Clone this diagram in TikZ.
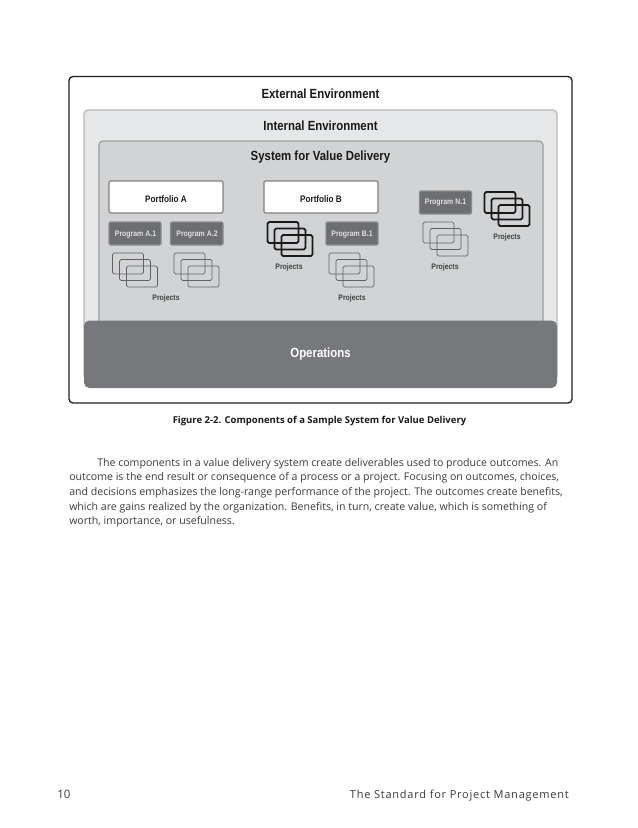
\documentclass[tikz,border=0pt]{standalone}
\usepackage{fontspec}
\setmainfont{Open Sans}
\newfontfamily\figfont[FakeStretch=0.86]{Liberation Sans}
\definecolor{internalgray}{HTML}{E6E7E8}
\definecolor{systemgray}{HTML}{D1D3D4}
\definecolor{opsgray}{HTML}{77787B}
\definecolor{programgray}{HTML}{6D6E71}
\definecolor{bodygray}{HTML}{3A3A3C}
\tikzset{
  envtitle/.style={font=\figfont\bfseries\fontsize{9.95}{11}\selectfont,text=black!90},
  smalllabel/.style={font=\figfont\bfseries\fontsize{6}{8}\selectfont,text=black!75},
  portfoliolabel/.style={font=\figfont\bfseries\fontsize{7.1}{8}\selectfont,text=black!90},
  programlabel/.style={font=\figfont\bfseries\fontsize{6.05}{8}\selectfont,text=black!12},
  portfoliobox/.style={draw=black!50,line width=0.9pt,fill=white,rounded corners=1pt},
  programbox/.style={draw=black!45,line width=0.9pt,fill=programgray,rounded corners=1pt},
  projthin/.style={draw=black!62,line width=0.6pt,rounded corners=1.2pt},
  projbold/.style={draw=black!90,line width=1.35pt,rounded corners=1.2pt},
  bodyline/.style={anchor=base west,inner sep=0pt,text=bodygray,font=\fontsize{7.93}{10}\selectfont},
}
% one stack of three overlapping project frames
\newcommand{\projstack}[3]{
  \foreach \k in {0,1,2} {
    \draw[#3] ({#1+7*\k},{#2+6.5*\k}) rectangle ++(31,21);
  }
}
\begin{document}
\begin{tikzpicture}[x=0.75pt,y=-0.75pt,line join=round]
  \useasboundingbox[fill=white] (0,0) rectangle (638,828);
  % the nested environments
  \draw[draw=black!88,line width=1pt,fill=white,rounded corners=3pt] (69,76.5) rectangle (572,403);
  \draw[draw=black!28,line width=0.9pt,fill=internalgray,rounded corners=3pt] (84,110) rectangle (557,380);
  \draw[draw=black!38,line width=0.9pt,fill=systemgray,rounded corners=3pt] (99,141) rectangle (543,340);
  \fill[opsgray,rounded corners=4pt] (84,320.5) rectangle (557,388);
  \node[envtitle] (external) at (320.5,93.5) {External Environment};
  \node[envtitle] (internal) at (320.5,125.5) {Internal Environment};
  \node[envtitle] (system) at (320.5,157.5) {System for Value Delivery};
  \node[envtitle,text=white] (operations) at (320.5,354.5) {Operations};
  % portfolios
  \draw[portfoliobox] (109,181) rectangle (223,213);
  \node[portfoliolabel] (portfolioA) at (166,199) {Portfolio A};
  \draw[portfoliobox] (264,181) rectangle (378,213);
  \node[portfoliolabel] (portfolioB) at (321,199) {Portfolio B};
  % programs
  \draw[programbox] (109,222) rectangle (161,245);
  \node[programlabel] (programA1) at (135.5,234.5) {Program A.1};
  \draw[programbox] (170.5,222) rectangle (223,245);
  \node[programlabel] (programA2) at (197,234.5) {Program A.2};
  \draw[programbox] (326,222) rectangle (378,245);
  \node[programlabel] (programB1) at (352,234.5) {Program B.1};
  \draw[programbox] (419.5,191) rectangle (471.5,214);
  \node[programlabel] (programN1) at (445.5,203) {Program N.1};
  % project stacks
  \projstack{112.5}{253}{projthin}
  \projstack{174}{253}{projthin}
  \projstack{329}{253}{projthin}
  \projstack{423}{222}{projthin}
  \projstack{267.5}{222}{projbold}
  \projstack{484.5}{192}{projbold}
  \node[smalllabel] (projectsA) at (166,298.5) {Projects};
  \node[smalllabel] (projectsB) at (289,267.5) {Projects};
  \node[smalllabel] (projectsC) at (352,298.5) {Projects};
  \node[smalllabel] (projectsN) at (445,267.5) {Projects};
  \node[smalllabel] (projectsM) at (507,237.5) {Projects};
  % caption and page text
  \node[font=\bfseries\fontsize{7.13}{10}\selectfont,text=black!90] (caption) at (319.5,420.5) {Figure 2-2. Components of a Sample System for Value Delivery};
  \node[bodyline] (line1) at (97,466) {The components in a value delivery system create deliverables used to produce outcomes. An};
  \node[bodyline] (line2) at (69,480.5) {outcome is the end result or consequence of a process or a project. Focusing on outcomes, choices,};
  \node[bodyline] (line3) at (69,495) {and decisions emphasizes the long-range performance of the project. The outcomes create benefits,};
  \node[bodyline] (line4) at (69,510) {which are gains realized by the organization. Benefits, in turn, create value, which is something of};
  \node[bodyline] (line5) at (69,524.5) {worth, importance, or usefulness.};
  \node[bodyline,font=\fontsize{8.6}{11}\selectfont] (pagenum) at (57,798) {10};
  \node[bodyline,anchor=base east,font=\fontsize{8.25}{11}\addfontfeature{LetterSpace=7}\selectfont] (footer) at (569,798) {The Standard for Project Management};
\end{tikzpicture}
\end{document}
